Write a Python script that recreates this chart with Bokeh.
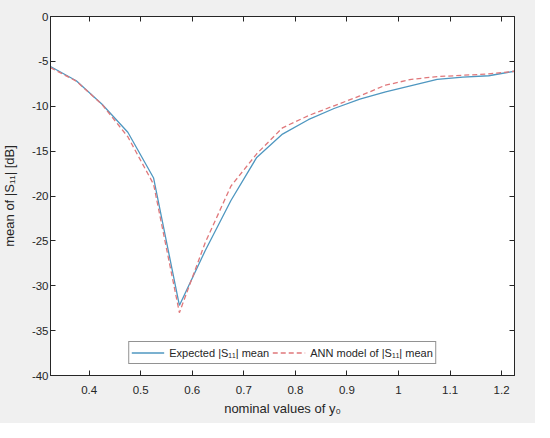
from bokeh.plotting import figure
from bokeh.models import Range1d, LinearAxis, FixedTicker, Legend, LegendItem
from bokeh.embed import file_html
from bokeh.resources import INLINE

# nominal values of y0
x_vals = [0.325, 0.375, 0.425, 0.475, 0.525, 0.575, 0.625, 0.675, 0.725, 0.775,
          0.825, 0.875, 0.925, 0.975, 1.025, 1.075, 1.125, 1.175, 1.225]
# Expected |S11| mean [dB]
expected_mean = [-5.57, -7.16, -9.77, -12.9, -18.0, -32.2, -26.1, -20.5, -15.7, -13.1,
                 -11.5, -10.25, -9.2, -8.4, -7.7, -7.0, -6.75, -6.6, -6.1]
# ANN model of |S11| mean [dB]
ann_mean = [-5.7, -7.2, -9.8, -13.4, -18.7, -33.0, -25.2, -18.9, -15.3, -12.4,
            -11.05, -9.95, -8.85, -7.65, -7.0, -6.7, -6.55, -6.4, -6.1]

x_ticks = [0.4, 0.5, 0.6, 0.7, 0.8, 0.9, 1.0, 1.1, 1.2]
x_tick_labels = ["0.4", "0.5", "0.6", "0.7", "0.8", "0.9", "1", "1.1", "1.2"]
y_ticks = [-40, -35, -30, -25, -20, -15, -10, -5, 0]
y_tick_labels = ["-40", "-35", "-30", "-25", "-20", "-15", "-10", "-5", "0"]

FONT = "Liberation Sans"
DARK = "#262626"

p = figure(width=538, height=426, output_backend="svg", toolbar_location=None,
           x_range=Range1d(0.325, 1.225), y_range=Range1d(-40, 0),
           min_border_left=53, min_border_right=21, min_border_top=19,
           min_border_bottom=48, x_axis_type=None, y_axis_type=None)
p.styles = {"margin-left": "-3px", "margin-top": "-3px"}
p.border_fill_color = "#f0f0f0"
p.background_fill_color = "white"
p.outline_line_color = DARK
p.outline_line_width = 1


def make_axis(ticks, labels, show_labels):
    ax = LinearAxis(ticker=FixedTicker(ticks=ticks))
    ax.major_tick_in = 5
    ax.major_tick_out = 0
    ax.minor_tick_in = 0
    ax.minor_tick_out = 0
    ax.axis_line_color = DARK
    ax.major_tick_line_color = DARK
    ax.major_label_text_font = FONT
    ax.major_label_text_font_size = "11.5px"
    ax.major_label_text_color = DARK
    ax.axis_label_text_font = FONT
    ax.axis_label_text_font_size = "13px"
    ax.axis_label_text_font_style = "normal"
    ax.axis_label_text_color = DARK
    if show_labels:
        ax.major_label_overrides = {t: l for t, l in zip(ticks, labels)}
    else:
        ax.major_label_text_color = None
        ax.major_label_standoff = 0
    return ax


xb = make_axis(x_ticks, x_tick_labels, True)
xb.major_label_standoff = 10
xb.axis_label = "nominal values of y\u2080"
xb.axis_label_standoff = 4
p.add_layout(xb, "below")

yl = make_axis(y_ticks, y_tick_labels, True)
yl.major_label_standoff = 2
yl.axis_label = "mean of |S\u2081\u2081| [dB]"
yl.axis_label_standoff = 12
p.add_layout(yl, "left")

xt = make_axis(x_ticks, x_tick_labels, False)
p.add_layout(xt, "above")
yr = make_axis(y_ticks, y_tick_labels, False)
p.add_layout(yr, "right")

p.xgrid.ticker = FixedTicker(ticks=x_ticks)
p.ygrid.ticker = FixedTicker(ticks=y_ticks)
p.grid.grid_line_color = "#e4e4e4"
p.grid.grid_line_width = 1

r_exp = p.line(x_vals, expected_mean, line_color="#4f97c0", line_width=1.3)
r_ann = p.line(x_vals, ann_mean, line_color="#e0787b", line_width=1.3,
               line_dash="5 3")

legend = Legend(items=[
    LegendItem(label="Expected |S\u2081\u2081| mean", renderers=[r_exp]),
    LegendItem(label="ANN model of |S\u2081\u2081| mean", renderers=[r_ann]),
])
legend.orientation = "horizontal"
legend.location = "bottom_center"
legend.margin = 11
legend.padding = 2
legend.spacing = 3
legend.glyph_width = 33
legend.glyph_height = 17
legend.label_height = 17
legend.label_standoff = 5
legend.label_text_font = FONT
legend.label_text_font_size = "11px"
legend.label_text_color = DARK
legend.border_line_color = DARK
legend.border_line_width = 1
legend.background_fill_color = "white"
legend.background_fill_alpha = 1
p.add_layout(legend, "center")

open("out.html", "w").write(file_html(p, INLINE))
